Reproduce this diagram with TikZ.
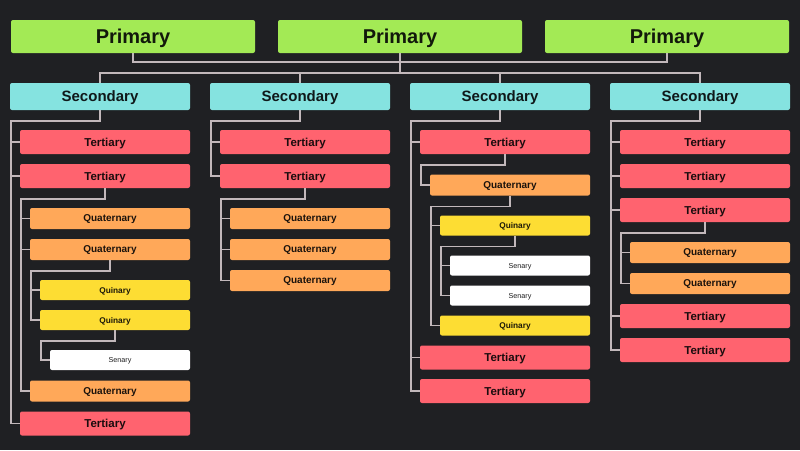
\documentclass[tikz,border=0pt]{standalone}
\usepackage{fontspec}
\setmainfont{Liberation Sans}
\usepackage{tikz}
\usetikzlibrary{positioning}
\definecolor{bgdark}{HTML}{1F2023}
\definecolor{primgreen}{HTML}{A3EA55}
\definecolor{seccyan}{HTML}{85E3E0}
\definecolor{terred}{HTML}{FF636F}
\definecolor{quatorange}{HTML}{FFA859}
\definecolor{quinyellow}{HTML}{FDDD33}
\definecolor{linkgray}{HTML}{C2B8BB}
\newcommand{\elbow}[2]{\draw[link] (#1.south) -- ++(0,11) -| ([xshift=-9pt]#2.west) -- (#2.west);}

\begin{document}
\begin{tikzpicture}[x=1pt, y=-1pt, every node/.style={inner sep=0pt, outer sep=0pt, text depth=0, rounded corners=2pt, text=black!90!bgdark, text opacity=0.9},
    prim/.style={fill=primgreen, minimum width=244pt, minimum height=33pt, font=\fontsize{20}{24}\selectfont\bfseries},
    sec/.style={fill=seccyan, minimum width=180pt, minimum height=27pt, font=\fontsize{15}{18}\selectfont\bfseries},
    ter/.style={fill=terred, minimum width=170pt, minimum height=24pt, font=\fontsize{11.5}{14}\selectfont\bfseries},
    quat/.style={fill=quatorange, minimum width=160pt, minimum height=21pt, font=\fontsize{10}{12}\selectfont\bfseries},
    quin/.style={fill=quinyellow, minimum width=150pt, minimum height=20pt, font=\fontsize{8.3}{10}\selectfont\bfseries},
    sen/.style={fill=white, minimum width=140pt, minimum height=20pt, font=\fontsize{7.2}{9}\selectfont},
    link/.style={draw=linkgray, line width=1.7pt}]
        \fill[bgdark] (0,0) rectangle (800,450);
        \useasboundingbox (0,0) rectangle (800,450);
        % top level
        \node[prim] (p1) at (133,36.5) {Primary};
        \node[prim] (p2) at (400,36.5) {Primary};
        \node[prim] (p3) at (667,36.5) {Primary};
        \node[sec] (s1) at (100,96.5) {Secondary};
        \node[sec] (s2) at (300,96.5) {Secondary};
        \node[sec] (s3) at (500,96.5) {Secondary};
        \node[sec] (s4) at (700,96.5) {Secondary};
        % first column
        \node[ter] (ta1) at (105,142) {Tertiary};
        \node[ter] (ta2) at (105,176) {Tertiary};
        \node[quat] (qa1) at (110,218.5) {Quaternary};
        \node[quat] (qa2) at (110,249.5) {Quaternary};
        \node[quin] (na1) at (115,290) {Quinary};
        \node[quin] (na2) at (115,320) {Quinary};
        \node[sen] (sa1) at (120,360) {Senary};
        \node[quat] (qa3) at (110,391) {Quaternary};
        \node[ter] (ta3) at (105,423.5) {Tertiary};
        % second column
        \node[ter] (tb1) at (305,142) {Tertiary};
        \node[ter] (tb2) at (305,176) {Tertiary};
        \node[quat] (qb1) at (310,218.5) {Quaternary};
        \node[quat] (qb2) at (310,249.5) {Quaternary};
        \node[quat] (qb3) at (310,280.5) {Quaternary};
        % third column
        \node[ter] (tc1) at (505,142) {Tertiary};
        \node[quat] (qc1) at (510,185) {Quaternary};
        \node[quin] (nc1) at (515,225.5) {Quinary};
        \node[sen] (sc1) at (520,265.5) {Senary};
        \node[sen] (sc2) at (520,295.5) {Senary};
        \node[quin] (nc2) at (515,325.5) {Quinary};
        \node[ter] (tc2) at (505,357.5) {Tertiary};
        \node[ter] (tc3) at (505,391) {Tertiary};
        % fourth column
        \node[ter] (td1) at (705,142) {Tertiary};
        \node[ter] (td2) at (705,176) {Tertiary};
        \node[ter] (td3) at (705,210) {Tertiary};
        \node[quat] (qd1) at (710,252.5) {Quaternary};
        \node[quat] (qd2) at (710,283.5) {Quaternary};
        \node[ter] (td4) at (705,316) {Tertiary};
        \node[ter] (td5) at (705,350) {Tertiary};

        \draw[link] (p1.south) -- ++(0,9) -| (p3.south);
        \draw[link] (p2.south) -- ++(0,20) -| (s1.north);
        \draw[link] (p2.south) -- ++(0,20) -| (s2.north);
        \draw[link] (p2.south) -- ++(0,20) -| (s3.north);
        \draw[link] (p2.south) -- ++(0,20) -| (s4.north);

        \elbow{s1}{ta1} \elbow{s1}{ta2} \elbow{s1}{ta3}
        \elbow{ta2}{qa1} \elbow{ta2}{qa2} \elbow{ta2}{qa3}
        \elbow{qa2}{na1} \elbow{qa2}{na2}
        \elbow{na2}{sa1}

        \elbow{s2}{tb1} \elbow{s2}{tb2}
        \elbow{tb2}{qb1} \elbow{tb2}{qb2} \elbow{tb2}{qb3}

        \elbow{s3}{tc1} \elbow{s3}{tc2} \elbow{s3}{tc3}
        \elbow{tc1}{qc1}
        \elbow{qc1}{nc1} \elbow{qc1}{nc2}
        \elbow{nc1}{sc1} \elbow{nc1}{sc2}

        \elbow{s4}{td1} \elbow{s4}{td2} \elbow{s4}{td3} \elbow{s4}{td4} \elbow{s4}{td5}
        \elbow{td3}{qd1} \elbow{td3}{qd2}
    \end{tikzpicture}
\end{document}
